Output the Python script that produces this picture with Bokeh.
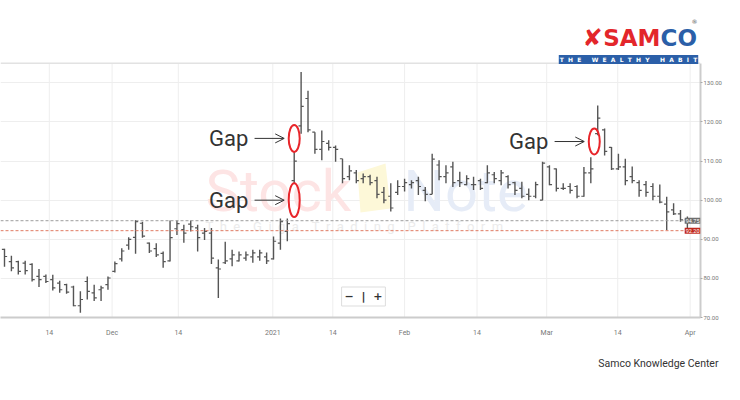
import numpy as np
from bokeh.plotting import figure
from bokeh.models import (Range1d, FixedTicker, PrintfTickFormatter, Span, Label, Title,
                          Arrow, OpenHead, PolyAnnotation, ColumnDataSource)
from bokeh.embed import file_html
from bokeh.resources import INLINE

# ---------------- data (daily OHLC) ----------------
opens = [87.4, 84.3, 84.3, 83.9, 83.6, 80.5, 80.5, 79.7, 78.8, 78.4,
         77.8, 73.0, 79.2, 76.3, 77.1, 78.4, 81.8, 85.0, 88.5, 90.5,
         94.1, 89.0, 87.6, 86.4, 84.5, 92.7, 92.5, 93.9, 92.9, 91.6,
         91.6, 82.7, 84.0, 85.0, 84.5, 85.2, 85.5, 85.5, 85.5, 85.0,
         89.0, 92.0, 105.0, 119.0, 126.0, 117.4, 113.0, 114.5, 113.5, 110.6,
         106.0, 107.0, 105.5, 106.0, 105.0, 102.0, 101.0, 102.0, 103.5, 104.0,
         105.0, 102.5, 101.5, 109.0, 106.0, 108.5, 105.0, 104.0, 104.0, 105.0,
         104.5, 106.5, 105.0, 106.0, 104.5, 103.0, 101.5, 101.0, 100.0, 108.5,
         108.0, 103.0, 103.5, 103.5, 101.0, 107.0, 117.0, 118.0, 113.5, 108.0,
         108.5, 106.0, 104.5, 104.0, 103.5, 101.0, 99.0, 97.5, 96.5, 95.0]
highs = [87.6, 85.8, 84.5, 84.5, 83.9, 82.4, 81.0, 80.9, 79.4, 78.6,
         78.1, 76.7, 80.5, 78.4, 78.1, 80.5, 84.3, 87.7, 90.5, 94.9,
         94.5, 89.2, 89.0, 86.9, 94.8, 94.8, 93.7, 94.8, 93.7, 92.9,
         92.9, 84.8, 89.4, 87.3, 86.9, 86.9, 87.3, 87.3, 86.6, 90.7,
         95.3, 95.3, 112.3, 132.8, 128.0, 117.4, 117.8, 115.3, 114.0, 110.6,
         108.9, 107.7, 106.8, 106.5, 106.0, 103.4, 104.3, 105.1, 105.5, 105.1,
         106.0, 103.4, 111.9, 110.2, 108.9, 109.8, 107.3, 106.4, 106.0, 105.5,
         108.9, 107.2, 107.7, 106.4, 104.7, 104.7, 103.0, 104.7, 109.8, 108.9,
         108.1, 104.3, 104.3, 103.8, 108.5, 111.0, 124.2, 118.3, 113.6, 111.9,
         110.6, 108.6, 105.1, 104.9, 104.3, 104.0, 100.9, 99.2, 97.5, 95.8]
lows = [83.0, 81.8, 81.0, 81.0, 79.2, 77.8, 78.8, 76.9, 76.3, 76.1,
        72.9, 71.2, 74.6, 74.2, 74.2, 77.1, 81.5, 84.3, 87.3, 86.3,
        90.4, 86.5, 85.5, 82.7, 84.3, 91.1, 89.1, 92.0, 86.9, 89.8,
        83.7, 75.0, 83.7, 83.1, 84.3, 84.5, 84.0, 84.5, 83.7, 84.8,
        87.3, 89.5, 104.3, 117.0, 117.4, 111.9, 110.2, 112.7, 109.8, 104.3,
        105.1, 104.3, 104.3, 103.8, 100.5, 99.2, 97.1, 101.3, 102.2, 103.0,
        101.3, 99.7, 101.5, 105.1, 104.3, 103.4, 103.4, 103.8, 102.6, 102.6,
        104.3, 104.3, 103.8, 103.0, 101.3, 100.5, 100.0, 100.5, 100.0, 103.8,
        102.2, 102.6, 101.7, 100.5, 100.9, 104.3, 116.6, 111.4, 107.7, 107.7,
        103.8, 104.3, 100.9, 100.9, 100.0, 99.2, 92.4, 96.2, 94.5, 92.1]
closes = [85.6, 82.7, 81.8, 82.0, 79.7, 79.7, 79.2, 77.6, 77.1, 76.5,
          73.0, 74.6, 76.7, 75.0, 77.6, 80.1, 83.8, 87.0, 90.0, 94.5,
          90.8, 87.0, 86.0, 84.3, 90.4, 94.0, 91.6, 93.2, 90.4, 92.0,
          85.2, 82.4, 84.5, 86.0, 86.0, 86.0, 86.5, 86.5, 84.5, 89.5,
          94.5, 94.0, 110.0, 124.0, 118.0, 113.0, 115.0, 113.5, 113.0, 105.5,
          107.5, 105.0, 106.0, 104.5, 101.5, 100.0, 98.0, 103.5, 104.5, 104.5,
          103.5, 101.5, 110.5, 106.0, 107.0, 104.5, 104.5, 105.5, 104.0, 103.0,
          107.0, 105.5, 107.0, 104.0, 102.5, 101.0, 101.0, 104.0, 109.5, 104.0,
          103.0, 103.0, 102.5, 101.0, 107.0, 108.0, 121.0, 112.5, 108.0, 108.5,
          105.0, 105.0, 102.5, 102.0, 101.0, 99.5, 97.0, 96.5, 95.0, 92.2]

x_tick_positions = [6.5, 15.6, 25.2, 38.9, 47.6, 58.0, 68.5, 78.6, 88.9, 99.4]
x_tick_labels = ["14", "Dec", "14", "2021", "14", "Feb", "14", "Mar", "14", "Apr"]
y_ticks = [70, 80, 90, 100, 110, 120, 130]
y_axis_top = 135.0        # top edge of the price panel

prev_close_level = 94.75
last_price = 92.20

# the three gaps that the chart marks
gap_x = [42, 42, 85.5]            # bar index of each marked gap
gap_mid = [100.0, 115.8, 115.0]   # centre price of each red ring
gap_span = [8.6, 6.9, 6.6]        # price height of each red ring
gap_text = ["Gap", "Gap", "Gap"]

W, H = 724, 384
NB = "\u00a0"

p = figure(width=W, height=H, output_backend="svg", toolbar_location=None,
           x_range=Range1d(-0.58, 100.9), y_range=Range1d(70, 151.06),
           y_axis_location="right", min_border_left=0, min_border_right=20,
           min_border_top=0, min_border_bottom=66)
p.background_fill_color = "white"
p.border_fill_color = "white"
p.outline_line_color = None

# grid
p.xgrid.visible = False
p.ygrid.ticker = FixedTicker(ticks=y_ticks)
p.ygrid.grid_line_color = "#eeeeee"
p.segment(x0=x_tick_positions, y0=[70] * len(x_tick_positions),
          x1=x_tick_positions, y1=[y_axis_top] * len(x_tick_positions),
          line_color="#eeeeee", line_width=1, level="underlay")

# x axis
xa = p.xaxis[0]
xa.ticker = FixedTicker(ticks=x_tick_positions)
xa.major_label_overrides = {pos: lab for pos, lab in zip(x_tick_positions, x_tick_labels)}
xa.axis_line_color = "#cccccc"
xa.axis_line_width = 2
xa.major_tick_line_color = None
xa.minor_tick_line_color = None
xa.major_label_text_font_size = "7px"
xa.major_label_text_color = "#777777"
xa.major_label_text_font = "Roboto"
xa.major_label_standoff = 5

# y axis (right)
ya = p.yaxis[0]
ya.ticker = FixedTicker(ticks=y_ticks)
ya.formatter = PrintfTickFormatter(format="%.2f")
ya.bounds = (70, y_axis_top)
ya.axis_line_color = "#cccccc"
ya.axis_line_width = 2
ya.major_tick_line_color = "#aaaaaa"
ya.major_tick_out = 2
ya.major_tick_in = 0
ya.minor_tick_line_color = None
ya.major_label_text_font_size = "6px"
ya.major_label_text_color = "#777777"
ya.major_label_text_font = "Roboto"
ya.major_label_standoff = 1

def cl(x, y, text, **kw):
    p.add_layout(Label(x=x, y=y, x_units="canvas", y_units="canvas", text=text, **kw))

# watermark
cl(205, 190, "Stock", text_font="Roboto", text_font_size="58px",
   text_color="#fde4e4", text_baseline="middle", level="underlay")
p.add_layout(PolyAnnotation(xs=[357, 385, 390, 360], ys=[172, 163, 208, 212],
                            xs_units="canvas", ys_units="canvas", fill_color="#fdf8d8",
                            fill_alpha=1, line_color=None, level="underlay"))
cl(403, 190, "Note", text_font="Roboto", text_font_size="58px",
   text_color="#e6ecf7", text_baseline="middle", level="underlay")
sub = (NB * 4).join((NB * 2).join(w) for w in ["The", "Giga", "Trading", "Platform"])
cl(205, 226, sub, text_font="Roboto", text_font_size="13px", text_color="#ebebeb",
   text_baseline="middle", level="underlay")

# top border of the price panel
p.add_layout(Span(location=y_axis_top, dimension="width", line_color="#e2e2e2", line_width=1.5))

# price lines
p.add_layout(Span(location=prev_close_level, dimension="width", line_color="#9c9c9c",
                  line_dash="3 2", line_width=1))
p.add_layout(Span(location=last_price, dimension="width", line_color="#e07a62",
                  line_dash="3 2", line_width=1))

# OHLC bars
idx = np.arange(len(opens))
src = ColumnDataSource(dict(x=idx, o=opens, h=highs, l=lows, c=closes,
                            xl=idx - 0.38, xr=idx + 0.38))
bar_color = "#555555"
p.segment(x0="x", y0="l", x1="x", y1="h", source=src, line_color=bar_color, line_width=1.4)
p.segment(x0="xl", y0="o", x1="x", y1="o", source=src, line_color=bar_color, line_width=1.2)
p.segment(x0="x", y0="c", x1="xr", y1="c", source=src, line_color=bar_color, line_width=1.2)

# gap annotations
p.ellipse(x=gap_x, y=gap_mid, width=11, height=gap_span, width_units="screen",
          fill_color=None, line_color="#e8262b", line_width=2)
for gx, gy in zip(gap_x, gap_mid):
    x_end = gx - 1.45
    x_start = x_end - 4.3
    p.add_layout(Arrow(end=OpenHead(size=9, line_color="#333333", line_width=1),
                       x_start=x_start, y_start=gy, x_end=x_end, y_end=gy,
                       line_color="#333333", line_width=1))
for gx, gy, t in zip(gap_x, gap_mid, gap_text):
    p.add_layout(Label(x=gx - 1.45 - 4.3 - 0.9, y=gy, text=t, text_align="right",
                       text_baseline="middle", text_font="Roboto",
                       text_font_size="22px", text_color="#333333"))

# price tags at the right edge
for lvl, col in [(prev_close_level, "#6e6e6e"), (last_price, "#c0271d")]:
    p.add_layout(Label(x=100.9, y=lvl, text=f"{lvl:.2f}", text_align="right",
                       text_font="Roboto", text_font_size="5.5px", text_color="white",
                       text_baseline="middle", background_fill_color=col, padding=1))

# zoom control
cl(363, 296, "−" + NB * 2 + "|" + NB * 2 + "+", text_align="center", text_baseline="middle",
   text_font="DejaVu Sans", text_font_size="11px", text_font_style="bold",
   text_color="#333333", background_fill_color="white",
   border_line_color="#dddddd", padding=3)

# logo (above the price panel)
cl(592, 37, "✘", text_font="DejaVu Sans", text_font_size="24px", text_align="center",
   text_color="#e3262b", text_baseline="middle", text_font_style="bold")
cl(660, 37, "SAM", text_font="DejaVu Sans", text_font_size="23px", text_align="right",
   text_font_style="bold", text_color="#e3262b", text_baseline="middle")
cl(660, 37, "CO", text_font="DejaVu Sans", text_font_size="23px", text_align="left",
   text_font_style="bold", text_color="#2b5fa8", text_baseline="middle")
cl(694, 21, "®", text_font="DejaVu Sans", text_font_size="6px", text_align="center",
   text_color="#555555", text_baseline="middle")
band = (NB * 5).join((NB * 2).join(w) for w in ["THE", "WEALTHY", "HABIT"])
cl(628, 59, band, text_align="center", text_baseline="middle", text_font="DejaVu Sans",
   text_font_size="6px", text_font_style="bold", text_color="white",
   background_fill_color="#2b5fa8", padding=1)

# footer
p.add_layout(Title(text="Samco Knowledge Center", align="right", offset=-18, standoff=30,
                   text_font="Roboto", text_font_size="10.5px", text_font_style="normal",
                   text_color="#333333"), "below")

open("out.html", "w").write(file_html(p, INLINE))
